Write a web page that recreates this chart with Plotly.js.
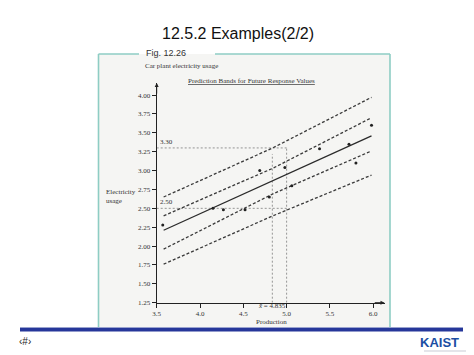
<!DOCTYPE html>
<html>
<head>
<meta charset="utf-8">
<script src="https://cdn.plot.ly/plotly-3.0.1.min.js"></script>
<style>html,body{margin:0;padding:0;background:#fff;}#chart{width:474px;height:355px;}</style>
</head>
<body>
<div id="chart"></div>
<script>
// ---- data ----
const pointsX = [3.57, 4.15, 4.27, 4.52, 4.69, 4.80, 4.98, 5.06, 5.38, 5.72, 5.80, 5.98];
const pointsY = [2.28, 2.50, 2.48, 2.48, 3.00, 2.65, 3.04, 2.80, 3.29, 3.35, 3.10, 3.60];
const bandX      = [3.58, 4.84, 5.98];
const fitY       = [2.21, 2.86, 3.46];
const innerUpper = [2.40, 3.03, 3.70];
const innerLower = [1.96, 2.69, 3.26];
const outerUpper = [2.65, 3.30, 3.97];
const outerLower = [1.76, 2.40, 2.94];
const xTicks = [3.5, 4.0, 4.5, 5.0, 5.5, 6.0];
const xTickText = ['3.5', '4.0', '4.5', '5.0', '5.5', '6.0'];
const yTicks = [1.25, 1.50, 1.75, 2.00, 2.25, 2.50, 2.75, 3.00, 3.25, 3.50, 3.75, 4.00];
const yTickText = ['1.25', '1.50', '1.75', '2.00', '2.25', '2.50', '2.75', '3.00', '3.25', '3.50', '3.75', '4.00'];
const xMin = 3.5, yMin = 1.25;
const xBar = 4.835, xBarTop = 3.22;
const xPred = 5.0;
const predHigh = 3.30, predLow = 2.50;

// ---- layout helpers (pixel -> paper) ----
const W = 474, H = 355;
const px = v => v / W;
const py = v => (H - v) / H;

const serif = 'Liberation Serif, DejaVu Serif, serif';
const sans = 'Liberation Sans, Arial, DejaVu Sans, sans-serif';
const ink = '#333';
const refStyle = {color: '#8a8a8a', width: 0.9, dash: '2px,2px'};
const bandStyle = {color: '#3a3a3a', width: 1.3, dash: '3px,2px'};

const traces = [
  {x: [xMin, xPred], y: [predHigh, predHigh], mode: 'lines', line: refStyle},
  {x: [xMin, xPred], y: [predLow, predLow], mode: 'lines', line: refStyle},
  {x: [xPred, xPred], y: [yMin, predHigh], mode: 'lines', line: refStyle},
  {x: [xBar, xBar], y: [yMin, xBarTop], mode: 'lines', line: refStyle},
  {x: bandX, y: outerUpper, mode: 'lines', line: bandStyle},
  {x: bandX, y: innerUpper, mode: 'lines', line: bandStyle},
  {x: bandX, y: innerLower, mode: 'lines', line: bandStyle},
  {x: bandX, y: outerLower, mode: 'lines', line: bandStyle},
  {x: [bandX[0], bandX[2]], y: [fitY[0], fitY[2]], mode: 'lines', line: {color: '#2a2a2a', width: 1.3}},
  {x: pointsX, y: pointsY, mode: 'markers', marker: {size: 3, color: '#222'}}
];

const frameColor = '#8ecdc4';
const shapes = [
  {type: 'rect', xref: 'paper', yref: 'paper', x0: px(98.5), x1: px(390), y0: py(327), y1: py(54), fillcolor: '#f5f5f3', line: {width: 0}, layer: 'below'},
  {type: 'line', xref: 'paper', yref: 'paper', x0: px(98.5), x1: px(98.5), y0: py(54), y1: py(327), line: {color: frameColor, width: 1.6}},
  {type: 'line', xref: 'paper', yref: 'paper', x0: px(390), x1: px(390), y0: py(54), y1: py(327), line: {color: frameColor, width: 1.6}},
  {type: 'line', xref: 'paper', yref: 'paper', x0: px(98.5), x1: px(139), y0: py(54), y1: py(54), line: {color: frameColor, width: 1.6}},
  {type: 'line', xref: 'paper', yref: 'paper', x0: px(215), x1: px(390), y0: py(54), y1: py(54), line: {color: frameColor, width: 1.6}},
  {type: 'rect', xref: 'paper', yref: 'paper', x0: px(20), x1: px(463), y0: py(331.5), y1: py(328), fillcolor: '#26379a', line: {width: 0}},
  {type: 'line', xref: 'paper', yref: 'paper', x0: px(20), x1: px(463), y0: py(327.5), y1: py(327.5), line: {color: '#9aa3cf', width: 1}},
  {type: 'line', xref: 'paper', yref: 'paper', x0: px(424), x1: px(466), y0: py(351), y1: py(351), line: {color: '#c9ccd6', width: 1.2}}
];

const ann = (text, x, y, opts) => Object.assign({text: text, xref: 'paper', yref: 'paper', x: px(x), y: py(y), xanchor: 'center', yanchor: 'middle', showarrow: false, font: {family: serif, size: 7, color: ink}}, opts || {});

const annotations = [
  ann('12.5.2 Examples(2/2)', 238, 34, {font: {family: sans, size: 16, color: '#111'}}),
  ann('Fig. 12.26', 144, 53, {xanchor: 'left', font: {family: sans, size: 9, color: '#333'}}),
  ann('Car plant electricity usage', 143, 66, {xanchor: 'left'}),
  ann('<u>Prediction Bands for Future Response Values</u>', 251, 81),
  ann('Electricity<br>usage', 104, 197, {xanchor: 'left', align: 'left'}),
  ann('Production', 271, 322),
  {text: '<i>x̄</i> = 4.835', xref: 'x', yref: 'paper', x: xBar, y: py(306), xanchor: 'center', yanchor: 'middle', showarrow: false, font: {family: serif, size: 7, color: ink}},
  {text: '3.30', xref: 'x', yref: 'y', x: xMin + 0.02, y: predHigh, xanchor: 'left', yanchor: 'bottom', showarrow: false, font: {family: serif, size: 7, color: ink}},
  {text: '2.50', xref: 'x', yref: 'y', x: xMin + 0.02, y: predLow, xanchor: 'left', yanchor: 'bottom', showarrow: false, font: {family: serif, size: 7, color: ink}},
  {text: '', xref: 'x', yref: 'y', axref: 'x', ayref: 'y', x: xMin, y: 4.16, ax: xMin, ay: 4.0, showarrow: true, arrowhead: 2, arrowsize: 0.8, arrowwidth: 1, arrowcolor: '#222'},
  {text: '', xref: 'x', yref: 'y', axref: 'x', ayref: 'y', x: 6.13, y: yMin, ax: 6.0, ay: yMin, showarrow: true, arrowhead: 2, arrowsize: 0.8, arrowwidth: 1, arrowcolor: '#222'},
  ann('‹#›', 17, 341, {xanchor: 'left', font: {family: sans, size: 10, color: '#222'}}),
  ann('<b>KAIST</b>', 461, 342, {xanchor: 'right', font: {family: sans, size: 13, color: '#1b4ea3'}})
];

const layout = {
  width: W, height: H,
  margin: {l: 0, r: 0, t: 0, b: 0},
  paper_bgcolor: '#ffffff',
  plot_bgcolor: 'rgba(0,0,0,0)',
  showlegend: false,
  xaxis: {
    domain: [px(156.7), px(384.5)], range: [xMin, 6.13],
    tickvals: xTicks, ticktext: xTickText,
    showline: true, linecolor: '#222', linewidth: 1,
    ticks: 'outside', ticklen: 4, tickcolor: '#222',
    showgrid: false, zeroline: false,
    tickfont: {family: serif, size: 7, color: ink}
  },
  yaxis: {
    domain: [py(302.7), py(83)], range: [yMin, 4.16],
    tickvals: yTicks, ticktext: yTickText,
    showline: true, linecolor: '#222', linewidth: 1,
    ticks: 'outside', ticklen: 4, tickcolor: '#222',
    showgrid: false, zeroline: false,
    tickfont: {family: serif, size: 7, color: ink}
  },
  shapes: shapes,
  annotations: annotations
};

Plotly.newPlot('chart', traces, layout, {staticPlot: true, displayModeBar: false});
</script>
</body>
</html>
